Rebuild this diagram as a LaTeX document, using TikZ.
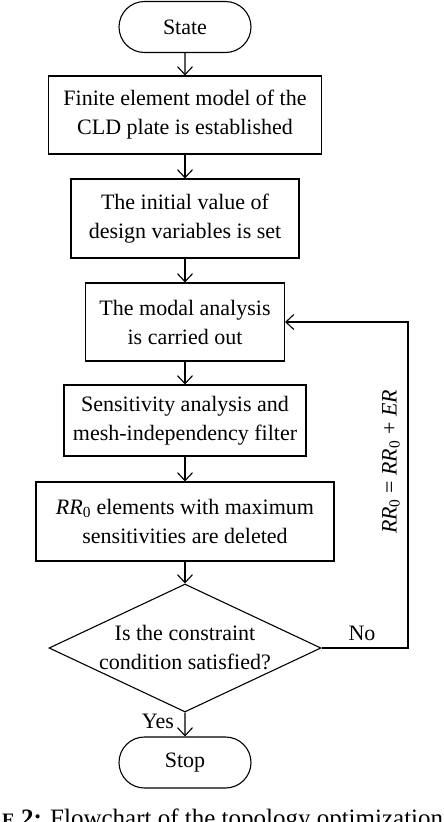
\documentclass[tikz,border=0pt]{standalone}
\usepackage{fontspec}
\setmainfont{Liberation Serif}
\usetikzlibrary{shapes,arrows.meta}

\begin{document}
\begin{tikzpicture}[x=1pt, y=-1pt, font=\fontsize{22}{29}\selectfont]
	\tikzstyle{Terminal}	= [rounded rectangle, draw, line width=1.1pt, minimum width=132pt, minimum height=51pt, inner sep=0pt]
	\tikzstyle{Process}	= [rectangle, draw, line width=1.1pt, align=center, inner sep=0pt]
	\tikzstyle{Decision}	= [diamond, draw, line width=1.1pt, align=center, aspect=2.125, minimum width=272pt, minimum height=128pt, inner sep=0pt]
	\tikzstyle{Flow}		= [line width=1.1pt, -{Straight Barb[length=8pt, width=15pt]}]
	\tikzstyle{Tag}		= [inner sep=1pt]

	\useasboundingbox (0,0) rectangle (444,822);
	\clip (0,0) rectangle (444,822);

	\node (start) at (185,27) [Terminal] {State};
	\node (model) at (185,115) [Process, minimum width=273pt, minimum height=78pt] {Finite element model of the\\CLD plate is established};
	\node (init) at (185,218.5) [Process, minimum width=228pt, minimum height=79pt] {The initial value of\\design variables is set};
	\node (modal) at (185,322) [Process, minimum width=199pt, minimum height=78pt] {The modal analysis\\is carried out};
	\node (sens) at (185,420.5) [Process, minimum width=242pt, minimum height=71pt] {Sensitivity analysis and\\mesh-independency filter};
	\node (delete) at (185,521.5) [Process, minimum width=298pt, minimum height=79pt] {\textit{RR}\textsubscript{0} elements with maximum\\sensitivities are deleted};
	\node (check) at (185,648) [Decision] {Is the constraint\\condition satisfied?};
	\node (stop) at (185,762.5) [Terminal] {Stop};
	\coordinate (loop) at (408,322);

	\foreach \a/\b in {start/model, model/init, init/modal, modal/sens, sens/delete, delete/check}
		\draw (\a) to (\b) [Flow];
	\draw (check) to (stop) [Flow];
	\draw (check.east) -| (loop) to (modal.east) [Flow];

	\node (yes) at (158,721) [Tag] {Yes};
	\node (no) at (362,633) [Tag] {No};
	\node (update) at (391,462) [Tag, rotate=90] {\textit{RR}\textsubscript{0} = \textit{RR}\textsubscript{0} + \textit{ER}};

	% caption, cut by the page edge
	\node (caption) at (-63,826) [anchor=base west, inner sep=0pt, font=\fontsize{25}{30}\selectfont] {\textbf{F{\fontsize{19}{22}\selectfont IGURE} 2:} Flowchart of the topology optimization.};
\end{tikzpicture}
\end{document}
